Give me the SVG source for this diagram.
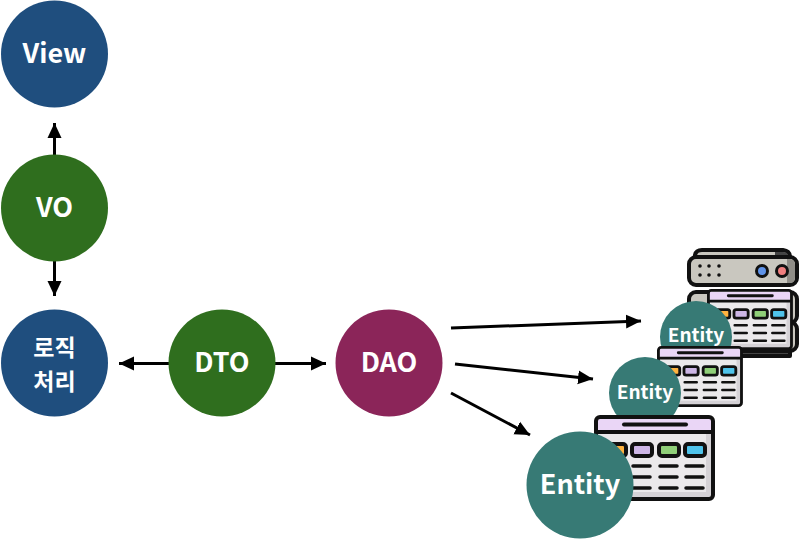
<svg xmlns="http://www.w3.org/2000/svg" xmlns:xlink="http://www.w3.org/1999/xlink" width="800" height="539" viewBox="0 0 800 539">
<style>
.lbl{font-family:"Noto Sans CJK KR","Noto Sans",sans-serif;font-weight:700;fill:#fff;text-anchor:middle}
.blue{fill:#1f4e7e}.green{fill:#2f6e1e}.plum{fill:#8b2559}.teal{fill:#377a75}
.conn{stroke:#000;stroke-width:3;fill:none;marker-end:url(#arrow)}
.ol{stroke:#111;stroke-width:4;stroke-linejoin:round;stroke-linecap:round}
.box{stroke:#111;stroke-width:4}
.tln{stroke:#111;stroke-width:3.500;stroke-linecap:round;fill:none}
</style>
<defs>
<marker id="arrow" markerUnits="userSpaceOnUse" markerWidth="16" markerHeight="16" refX="15" refY="8" orient="auto"><path d="M0 1L15 8L0 15Z" fill="#000"/></marker>
<g id="table">
<rect x="2" y="2" width="117" height="82" rx="4" fill="#ebe9eb"/>
<path d="M112 18H117V82H6V77H112Z" fill="#d5d2d6"/>
<path d="M4 4H117V15H4Z" fill="#ead6f6"/>
<rect x="2" y="2" width="117" height="82" rx="4" fill="none" stroke="#111" stroke-width="4"/>
<path d="M3 17H118" stroke="#111" stroke-width="4"/>
<path d="M30 9.500H92" stroke="#111" stroke-width="4" stroke-linecap="round"/>
<rect class="box" x="12" y="29" width="20" height="12" rx="3" fill="#ffb340"/>
<rect class="box" x="38" y="29" width="20" height="12" rx="3" fill="#cdb6e6"/>
<rect class="box" x="65" y="29" width="20" height="12" rx="3" fill="#8fcf78"/>
<rect class="box" x="91" y="29" width="20" height="12" rx="3" fill="#4fc3ea"/>
<path class="tln" d="M39 51H56M66 51H83M92 51H109M39 62H56M66 62H83M92 62H109M39 73H56M66 73H83M92 73H109"/>
</g>
</defs>
<g id="connectors">
<path class="conn" d="M54.500 156V123"/>
<path class="conn" d="M54.500 260V296"/>
<path class="conn" d="M170 363.500H119"/>
<path class="conn" d="M274 363.500H326"/>
<path class="conn" d="M451 328L641 321"/>
<path class="conn" d="M455 364L593 379"/>
<path class="conn" d="M451 393L530 435"/>
</g>
<g id="server">
<path class="ol" d="M695 257V255Q696 250 702 250H783Q790 251 790 257Z" fill="#c9c7bf"/>
<path d="M775 252H783Q788 252 788 256H775Z" fill="#444"/>
<path class="ol" d="M695 350V356H790V350Z" fill="#444"/>
<rect class="ol" x="689" y="257" width="108" height="28" rx="7" fill="#c9c7bf"/>
<path d="M787 259H790Q795 260 795 265V277Q795 283 790 283H787Z" fill="#8f8d87"/>
<rect class="ol" x="689" y="292" width="108" height="31" rx="7" fill="#c9c7bf"/>
<rect class="ol" x="689" y="322" width="108" height="29" rx="7" fill="#c9c7bf"/>
<g fill="#111"><circle cx="700" cy="266" r="1.800"/><circle cx="709" cy="266" r="1.800"/><circle cx="719" cy="266" r="1.800"/><circle cx="700" cy="275" r="1.800"/><circle cx="709" cy="275" r="1.800"/><circle cx="719" cy="275" r="1.800"/></g>
<circle cx="762" cy="271" r="5.500" fill="#5f93e8" stroke="#111" stroke-width="3"/>
<circle cx="782" cy="271" r="5.500" fill="#ef7f7f" stroke="#111" stroke-width="3"/>
</g>
<use xlink:href="#table" href="#table" transform="translate(707 289) scale(0.71)"/>
<g id="entity1"><circle class="teal" cx="696" cy="337" r="36"/><text class="lbl" x="696" y="342" font-size="19">Entity</text></g>
<use xlink:href="#table" href="#table" transform="translate(657 346) scale(0.71)"/>
<g id="entity2"><circle class="teal" cx="645" cy="393" r="36"/><text class="lbl" x="645" y="399" font-size="19">Entity</text></g>
<use xlink:href="#table" href="#table" transform="translate(594 415)"/>
<g id="entity3"><circle class="teal" cx="580" cy="485" r="53.500"/><text class="lbl" x="580" y="494" font-size="27">Entity</text></g>
<g id="view"><circle class="blue" cx="54.500" cy="54" r="53.500"/><text class="lbl" x="54.500" y="63" font-size="27">View</text></g>
<g id="vo"><circle class="green" cx="54.500" cy="208" r="53.500"/><text class="lbl" x="54.500" y="217" font-size="27">VO</text></g>
<g id="logic"><circle class="blue" cx="54.500" cy="363" r="53.500"/><text class="lbl" font-size="23"><tspan x="54.500" y="356">로직</tspan><tspan x="54.500" y="390">처리</tspan></text></g>
<g id="dto"><circle class="green" cx="222" cy="363" r="53.500"/><text class="lbl" x="222" y="372" font-size="27">DTO</text></g>
<g id="dao"><circle class="plum" cx="389" cy="363" r="53.500"/><text class="lbl" x="389" y="372" font-size="27">DAO</text></g>
</svg>
